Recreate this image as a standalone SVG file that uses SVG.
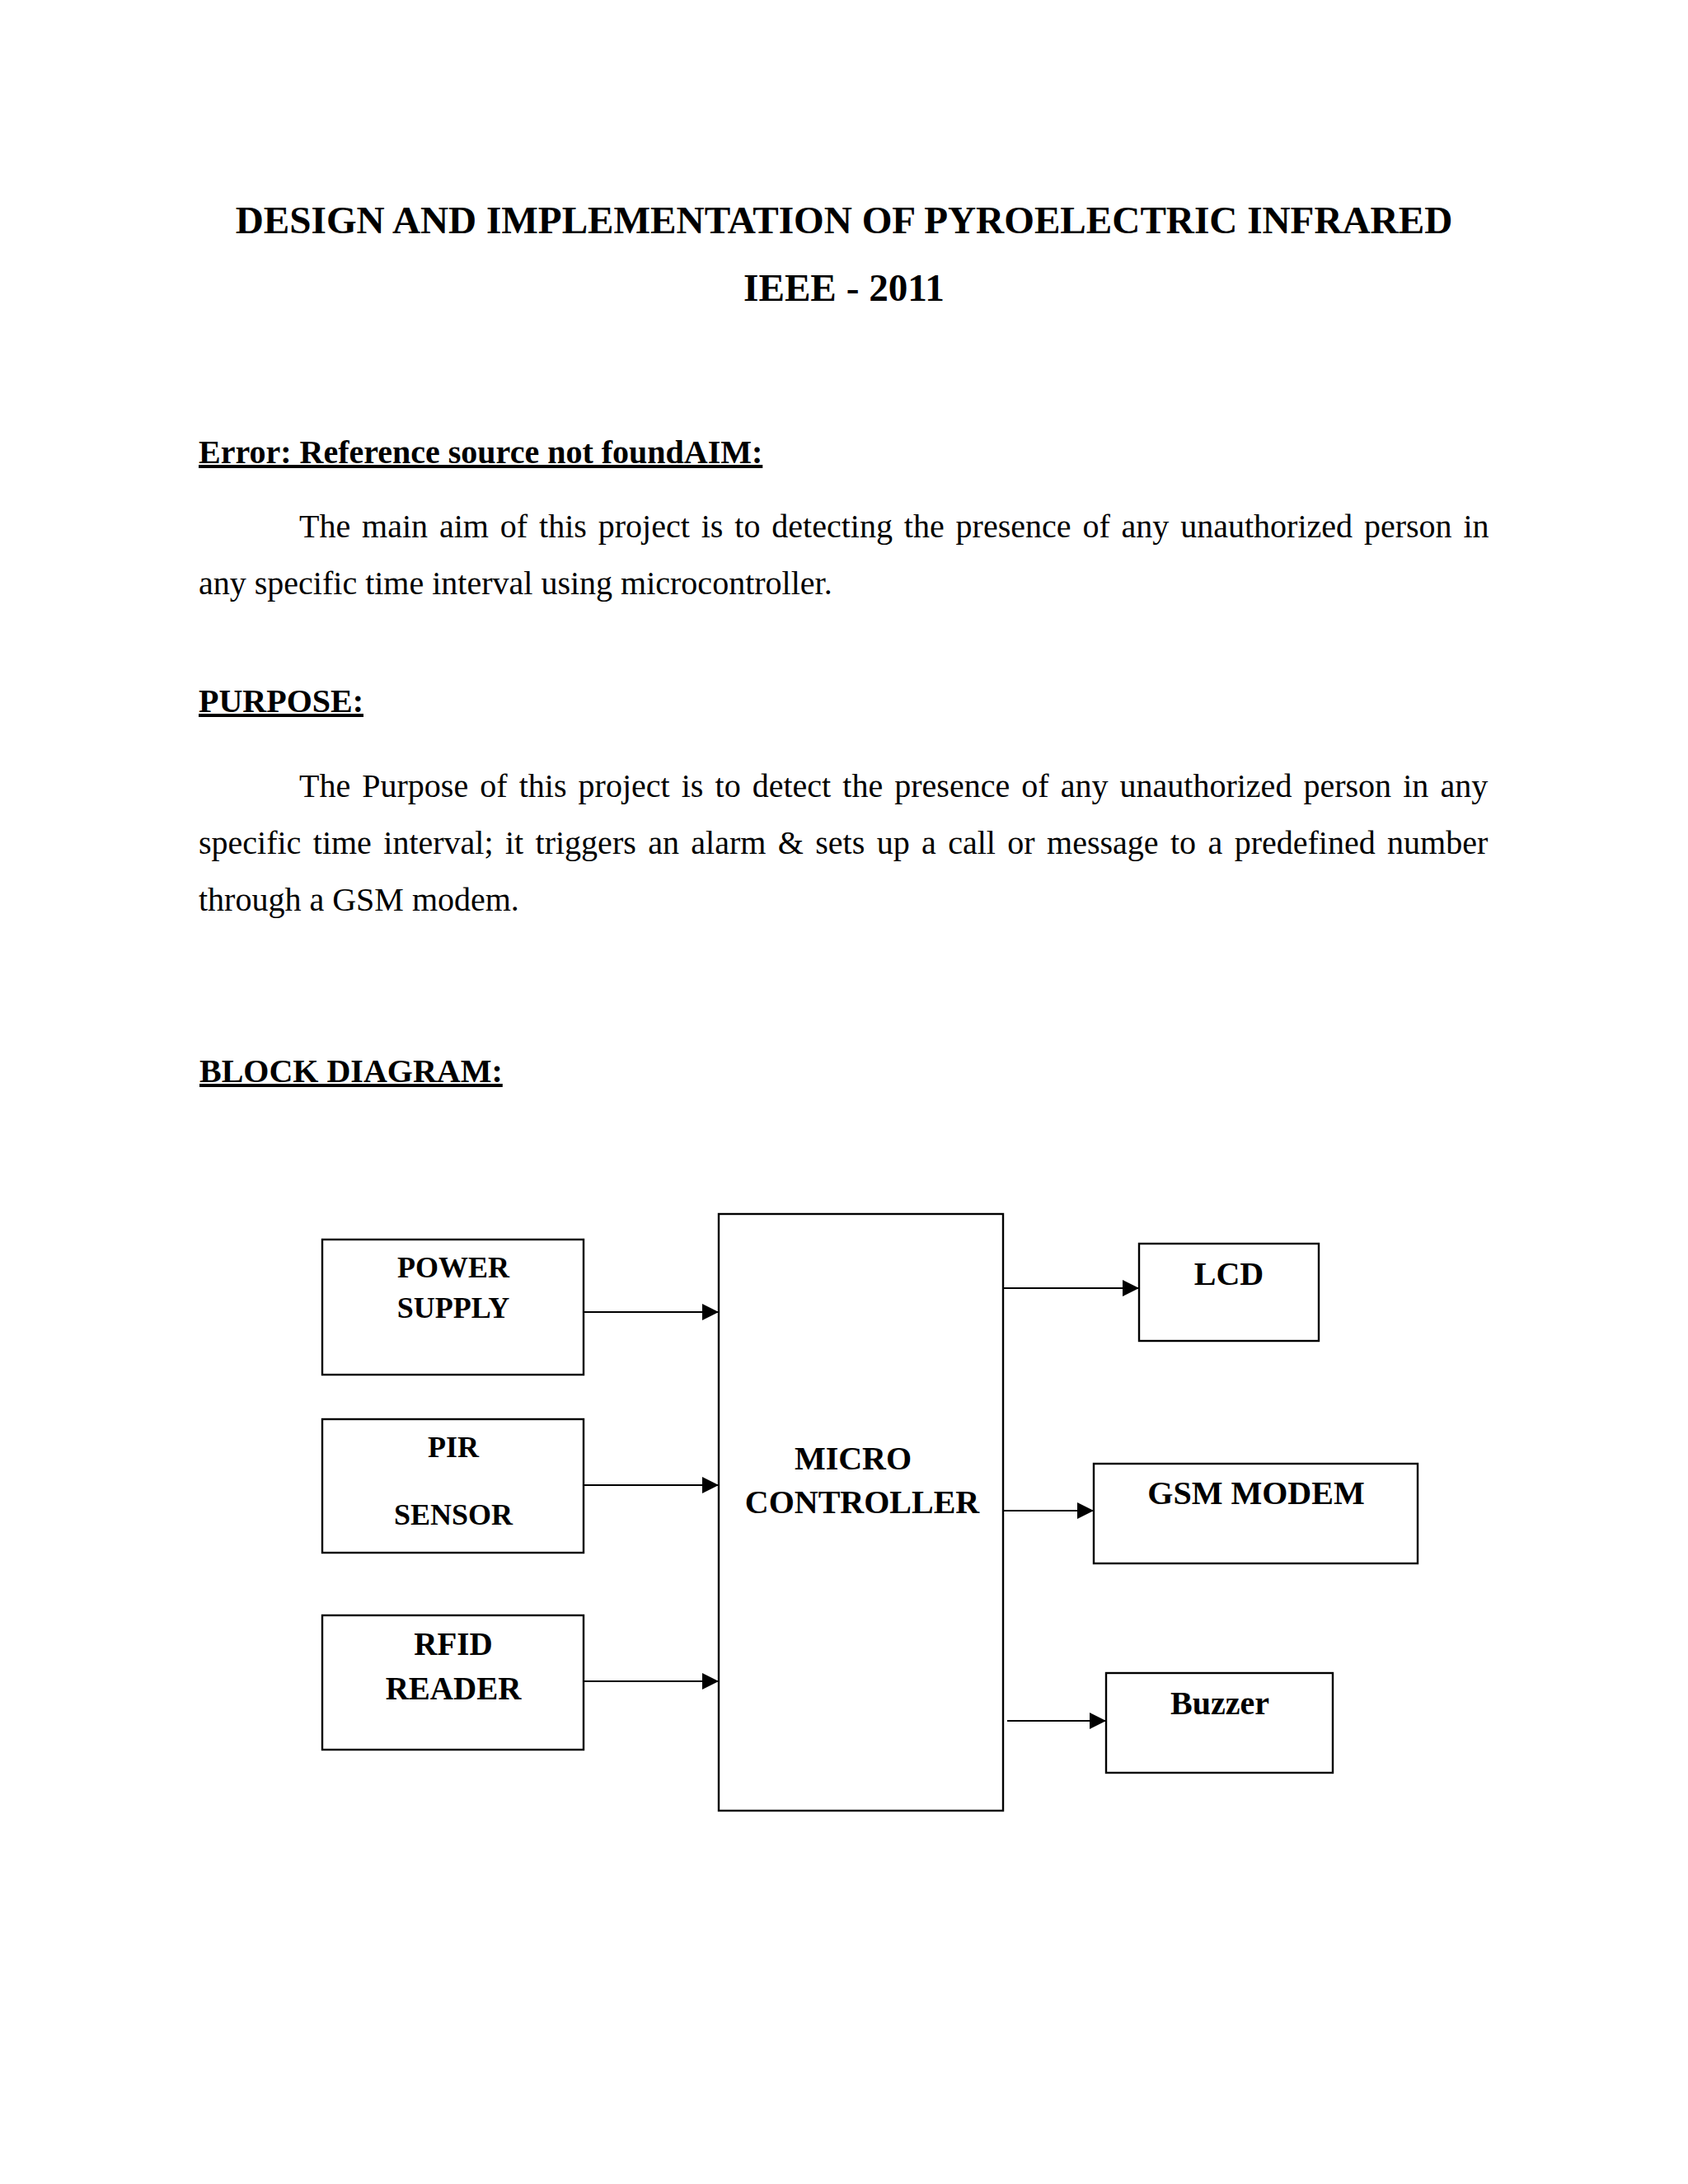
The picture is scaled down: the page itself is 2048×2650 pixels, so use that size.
<svg xmlns="http://www.w3.org/2000/svg" width="2048" height="2650" viewBox="0 0 2048 2650">
<style>
text{font-family:"Liberation Serif","Times New Roman",serif;fill:#000}
.title{font-size:47.2px;font-weight:bold;text-anchor:middle}
.head{font-size:40px;font-weight:bold;text-decoration:underline}
.body{font-size:40px}
.box{fill:#fff;stroke:#000;stroke-width:2.4}
.lbl{font-weight:bold;text-anchor:middle}
.s36{font-size:36px}
.s39{font-size:39px}
.s40{font-size:40px}
.conn line{stroke:#000;stroke-width:2.2;marker-end:url(#arr)}
</style>
<defs>
<marker id="arr" markerUnits="userSpaceOnUse" markerWidth="20" markerHeight="20" refX="20" refY="10" orient="auto">
<path d="M0,0 L20,10 L0,20 z" fill="#000"/>
</marker>
</defs>
<rect width="2048" height="2650" fill="#fff"/>
<text class="title" x="1024" y="283">DESIGN AND IMPLEMENTATION OF PYROELECTRIC INFRARED</text>
<text class="title" x="1024" y="365">IEEE - 2011</text>
<text class="head" x="241" y="562">Error: Reference source not foundAIM:</text>
<text class="body" x="363" y="652" word-spacing="3.9">The main aim of this project is to detecting the presence of any unauthorized person in</text>
<text class="body" x="241" y="721">any specific time interval using microcontroller.</text>
<text class="head" x="241" y="864">PURPOSE:</text>
<text class="body" x="363" y="967" word-spacing="4.1">The Purpose of this project is to detect the presence of any unauthorized person in any</text>
<text class="body" x="241" y="1036" word-spacing="4.4">specific time interval; it triggers an alarm &amp; sets up a call or message to a predefined number</text>
<text class="body" x="241" y="1105">through a GSM modem.</text>
<text class="head" x="242" y="1313">BLOCK DIAGRAM:</text>
<g id="power">
<rect class="box" x="391" y="1504" width="317" height="164"/>
<text class="lbl s36" x="550" y="1550">POWER</text>
<text class="lbl s36" x="550" y="1599">SUPPLY</text>
</g>
<g id="pir">
<rect class="box" x="391" y="1722" width="317" height="162"/>
<text class="lbl s36" x="550" y="1768">PIR</text>
<text class="lbl s36" x="550" y="1850">SENSOR</text>
</g>
<g id="rfid">
<rect class="box" x="391" y="1960" width="317" height="163"/>
<text class="lbl s39" x="550" y="2008">RFID</text>
<text class="lbl s39" x="550" y="2062">READER</text>
</g>
<g id="micro">
<rect class="box" x="872" y="1473" width="345" height="724"/>
<text class="lbl s40" x="1035" y="1783">MICRO</text>
<text class="lbl s40" x="1046" y="1836">CONTROLLER</text>
</g>
<g id="lcd">
<rect class="box" x="1382" y="1509" width="218" height="118"/>
<text class="lbl s40" x="1491" y="1559">LCD</text>
</g>
<g id="gsm">
<rect class="box" x="1327" y="1776" width="393" height="121"/>
<text class="lbl s40" x="1524" y="1825">GSM MODEM</text>
</g>
<g id="buzzer">
<rect class="box" x="1342" y="2030" width="275" height="121"/>
<text class="lbl s40" x="1480" y="2080">Buzzer</text>
</g>
<g class="conn" id="connectors">
<line x1="708" y1="1592" x2="872" y2="1592"/>
<line x1="708" y1="1802" x2="872" y2="1802"/>
<line x1="708" y1="2040" x2="872" y2="2040"/>
<line x1="1217" y1="1563" x2="1382" y2="1563"/>
<line x1="1217" y1="1833" x2="1327" y2="1833"/>
<line x1="1222" y1="2088" x2="1342" y2="2088"/>
</g>
</svg>
